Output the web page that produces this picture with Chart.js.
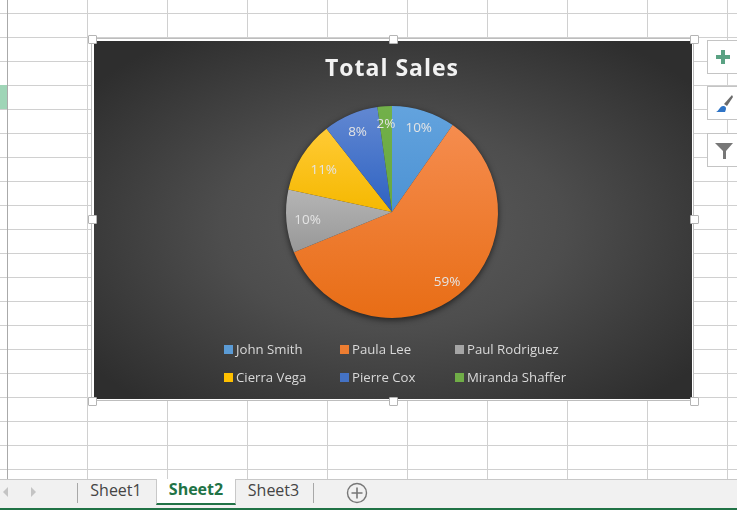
<!DOCTYPE html>
<html>
<head>
<meta charset="utf-8">
<script src="https://cdn.jsdelivr.net/npm/chart.js@4/dist/chart.umd.min.js"></script>
<style>
  html, body { margin: 0; padding: 0; }
  body { width: 737px; height: 510px; overflow: hidden; position: relative; background: #fff;
    font-family: "Open Sans", sans-serif; }
  .sheet { position: absolute; left: 0; top: 0; width: 737px; height: 479px;
    background-image:
      linear-gradient(#d0d0d0 1px, transparent 1px),
      linear-gradient(90deg, #d0d0d0 1px, transparent 1px);
    background-size: 80px 24px;
    background-position: 7px 13px; }
  .rowHeader { position: absolute; left: 0; top: 0; width: 7px; height: 479px; background: #fff;
    border-right: 1px solid #aaa; background-image: linear-gradient(#d0d0d0 1px, transparent 1px);
    background-size: 7px 24px; background-position: 0 13px; }
  .selRow { position: absolute; left: 0; top: 85px; width: 7px; height: 24px; background: #9fd5b7; }
  .frame { position: absolute; left: 91px; top: 38px; width: 603px; height: 363px; background: #fff;
    border: 1px solid #bdbdbd; box-sizing: border-box; }
  .chartBox { position: absolute; left: 94px; top: 41px; width: 598px; height: 358px;
    background: radial-gradient(ellipse 64% 64% at 50% 52%, #5c5c5c 0%, #4d4d4d 45%, #2e2e2e 100%); }
  .handle { position: absolute; background: #fff; border: 1px solid #b5b5b5;
    border-radius: 1px; box-sizing: border-box; width: 9px; height: 9px; }
  .legendItem { position: absolute; font-size: 13.2px; line-height: 16px; color: #d9d9d9; white-space: nowrap; }
  .legendItem i { position: absolute; left: -12px; top: 4px; width: 9px; height: 9px; }
  .sideBtn { position: absolute; left: 707px; width: 32px; height: 34px; background: #fff;
    border: 1px solid #c4c4c4; box-sizing: border-box; }
  .sideBtn svg { position: absolute; left: 7px; top: 7px; }
  .tabBar { position: absolute; left: 0; top: 479px; width: 737px; height: 29px; background: #f1f1f1;
    border-top: 1px solid #c8c8c8; box-sizing: border-box; }
  .statusLine { position: absolute; left: 0; top: 508px; width: 737px; height: 2px; background: #217346; }
  .tab { position: absolute; top: 480px; height: 24px; line-height: 21px; font-size: 16px; color: #444;
    text-align: center; }
  .tabActive { background: #fff; color: #217346; font-weight: 700; border-left: 1px solid #c8c8c8;
    border-right: 1px solid #c8c8c8; border-bottom: 2px solid #217346; box-sizing: border-box; margin-top: -1px; height: 26px; }
  .tabSep { position: absolute; top: 483px; width: 1px; height: 20px; background: #a8a8a8; }
</style>
</head>
<body>
<div class="sheet"></div>
<div class="rowHeader"></div>
<div class="selRow"></div>
<div class="frame"></div>
<div class="chartBox">
  <canvas id="salesChart" width="598" height="358"></canvas>
  <div id="legendBox"></div>
</div>
<div id="handles"></div>

<div class="sideBtn" style="top:40px">
  <svg width="16" height="18" viewBox="0 0 16 18"><path d="M6 2h4v5h5v4h-5v5H6v-5H1V7h5z" fill="#5aa283"/></svg>
</div>
<div class="sideBtn" style="top:86px">
  <svg width="18" height="20" viewBox="0 0 18 20"><path d="M17 1l1 2-6 9-3-2z" fill="#6b6b6b"/><path d="M1 18c3-1 4-7 8-6 3 1 2 4 1 6z" fill="#2f74c6"/></svg>
</div>
<div class="sideBtn" style="top:133px">
  <svg width="18" height="20" viewBox="0 0 18 20"><path d="M0 2h18l-7 8v8H8v-8z" fill="#777"/></svg>
</div>

<div class="tabBar"></div>
<div class="statusLine"></div>
<svg style="position:absolute;left:0;top:484px" width="40" height="16"><path d="M8 3l-5 5 5 5z" fill="#c4c4c4"/><path d="M31 3l5 5-5 5z" fill="#c4c4c4"/></svg>
<div class="tabSep" style="left:77px"></div>
<div class="tab" style="left:77px;width:78px">Sheet1</div>
<div class="tab tabActive" style="left:156px;width:80px">Sheet2</div>
<div class="tab" style="left:235px;width:77px">Sheet3</div>
<div class="tabSep" style="left:313px"></div>
<svg style="position:absolute;left:346px;top:482px" width="22" height="22"><circle cx="11" cy="11" r="9.5" fill="none" stroke="#777" stroke-width="1.4"/><path d="M11 5.5v11M5.5 11h11" stroke="#777" stroke-width="1.6"/></svg>

<script>
const names = ["John Smith", "Paula Lee", "Paul Rodriguez", "Cierra Vega", "Pierre Cox", "Miranda Shaffer"];
const shares = [9.7, 59.1, 9.6, 11, 8.4, 2.2];

// slice gradients, top colour / bottom colour
const topColors = ["#63a3de", "#f58c4e", "#b4b4b4", "#ffca33", "#5f86d1", "#72b04a"];
const bottomColors = ["#4c92d3", "#e86d15", "#979797", "#f5b800", "#2e62c2", "#68a83f"];
// where each slice starts and ends inside the pie, 0 = top, 1 = bottom
const sliceTop = [0, 0.1, 0.4, 0.12, 0.03, 0];
const sliceBottom = [0.5, 1, 0.7, 0.5, 0.5, 0.5];
// how far out each percent label sits, share of the radius
const labelRadius = [0.84, 0.83, 0.8, 0.76, 0.83, 0.84];

const legendColors = ["#5b9bd5", "#ed7d31", "#a5a5a5", "#ffc000", "#4472c4", "#70ad47"];
const legendX = [142, 258, 373];
const legendY = [300, 328];

function sliceFill(context) {
  const chart = context.chart;
  const area = chart.chartArea;
  const i = context.dataIndex;
  if (!area) return legendColors[i];
  const h = area.bottom - area.top;
  const g = chart.ctx.createLinearGradient(0, area.top + h * sliceTop[i], 0, area.top + h * sliceBottom[i]);
  g.addColorStop(0, topColors[i]);
  g.addColorStop(1, bottomColors[i]);
  return g;
}

const pieShadow = {
  id: "pieShadow",
  beforeDatasetsDraw(chart) {
    const arc = chart.getDatasetMeta(0).data[0];
    const ctx = chart.ctx;
    ctx.save();
    ctx.shadowColor = "rgba(0,0,0,0.6)";
    ctx.shadowBlur = 6;
    ctx.shadowOffsetY = 2;
    ctx.fillStyle = "#333";
    ctx.beginPath();
    ctx.arc(arc.x, arc.y, arc.outerRadius, 0, Math.PI * 2);
    ctx.fill();
    ctx.restore();
  }
};

const percentLabels = {
  id: "percentLabels",
  afterDatasetsDraw(chart) {
    const ctx = chart.ctx;
    const total = shares.reduce((a, b) => a + b, 0);
    ctx.save();
    ctx.font = "13.5px 'Open Sans', sans-serif";
    ctx.fillStyle = "#e4e4e4";
    ctx.textAlign = "center";
    ctx.textBaseline = "middle";
    chart.getDatasetMeta(0).data.forEach((arc, i) => {
      const mid = (arc.startAngle + arc.endAngle) / 2;
      const r = arc.outerRadius * labelRadius[i];
      ctx.fillText(Math.round(shares[i] / total * 100) + "%", arc.x + Math.cos(mid) * r, arc.y + Math.sin(mid) * r + 1);
    });
    ctx.restore();
  }
};

const titleSpacing = {
  id: "titleSpacing",
  beforeDraw(chart) { chart.ctx.letterSpacing = "1px"; },
  beforeDatasetsDraw(chart) { chart.ctx.letterSpacing = "0px"; }
};

function buildLegend() {
  const box = document.getElementById("legendBox");
  names.forEach((name, i) => {
    const item = document.createElement("div");
    item.className = "legendItem";
    item.style.left = legendX[i % 3] + "px";
    item.style.top = legendY[Math.floor(i / 3)] + "px";
    item.innerHTML = `<i style="background:${legendColors[i]}"></i>${name}`;
    box.appendChild(item);
  });
}

function buildHandles() {
  const box = document.getElementById("handles");
  [[92, 39], [393, 39], [694, 39], [92, 219], [694, 219], [92, 401], [393, 401], [694, 401]].forEach(p => {
    const h = document.createElement("div");
    h.className = "handle";
    h.style.left = (p[0] - 4) + "px";
    h.style.top = (p[1] - 4) + "px";
    box.appendChild(h);
  });
}

buildLegend();
buildHandles();

new Chart(document.getElementById("salesChart"), {
  type: "pie",
  data: {
    labels: names,
    datasets: [{ data: shares, backgroundColor: sliceFill, borderWidth: 0 }]
  },
  options: {
    responsive: false,
    animation: false,
    layout: { padding: { top: 0, bottom: 81, left: 0, right: 2 } },
    plugins: {
      legend: { display: false },
      tooltip: { enabled: false },
      title: {
        display: true,
        text: "Total Sales",
        color: "#f2f2f2",
        font: { family: "'Open Sans', sans-serif", size: 23, weight: "bold", lineHeight: 1.2 },
        padding: { top: 15, bottom: 22.4 }
      }
    }
  },
  plugins: [titleSpacing, pieShadow, percentLabels]
});
</script>
</body>
</html>
